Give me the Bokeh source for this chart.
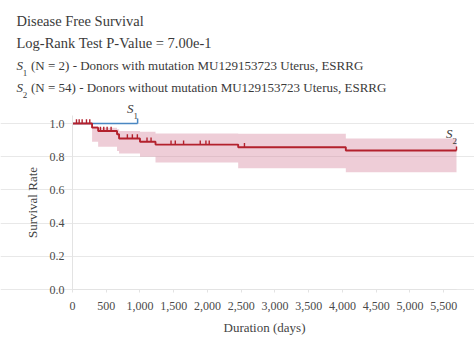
from bokeh.plotting import figure
from bokeh.models import Label, NumeralTickFormatter, FixedTicker, Range1d
from bokeh.embed import file_html
from bokeh.resources import INLINE

# ---- data ----
title_1 = "Disease Free Survival"
title_2 = "Log-Rank Test P-Value = 7.00e-1"
s1_desc = "(N = 2) - Donors with mutation MU129153723 Uterus, ESRRG"
s2_desc = "(N = 54) - Donors without mutation MU129153723 Uterus, ESRRG"
x_label = "Duration (days)"
y_label = "Survival Rate"

s1_time = [0, 965]
s1_surv = [1.0, 1.0]
s1_censor = [965]

s2_time = [0, 290, 380, 660, 690, 1000, 1230, 2455, 4050, 5690]
s2_surv = [1.0, 0.975, 0.955, 0.935, 0.91, 0.89, 0.873, 0.857, 0.837, 0.837]
s2_upper = [1.0, 0.985, 0.975, 0.965, 0.955, 0.95, 0.94, 0.938, 0.91, 0.91]
s2_lower = [1.0, 0.89, 0.86, 0.835, 0.82, 0.80, 0.765, 0.73, 0.707, 0.707]
s2_censor = [59, 99, 143, 207, 256, 414, 463, 513, 572, 813, 887, 961, 1104, 1164,
             1460, 1523, 1646, 1893, 1977, 2026, 2548, 5690]

x_ticks = list(range(0, 5501, 500))
y_ticks = [0.0, 0.2, 0.4, 0.6, 0.8, 1.0]
x_max = 5690
y_top = 1.05

RED = "#b3212d"
BLUE = "#4a87c2"
BAND = "#d5839a"
FONT = "Liberation Serif"
TXT = "#3a3a3a"


def surv_at(times, surv, t):
    v = surv[0]
    for ti, si in zip(times, surv):
        if ti <= t:
            v = si
    return v


# layout geometry (pixels); the frame covers the whole canvas
W, H = 474, 351
AX_LEFT = 72        # pixel of x = 0
AX_RIGHT = 456      # pixel of x = x_max
AX_BOTTOM = 289     # pixel of y = 0
PX_PER_Y = 166.0    # pixels per 1.0 survival

px_per_x = (AX_RIGHT - AX_LEFT) / x_max
x_lo = -AX_LEFT / px_per_x
x_hi = (W - AX_LEFT) / px_per_x
y_lo = -(H - AX_BOTTOM) / PX_PER_Y
y_hi = AX_BOTTOM / PX_PER_Y

p = figure(width=W, height=H, x_range=Range1d(x_lo, x_hi), y_range=Range1d(y_lo, y_hi),
           output_backend="svg", toolbar_location=None,
           min_border_left=0, min_border_right=0, min_border_top=0, min_border_bottom=0)
p.outline_line_color = None
p.background_fill_color = "white"
p.border_fill_color = "white"

# band
p.varea_step(x=s2_time, y1=s2_lower, y2=s2_upper, step_mode="after",
             fill_color=BAND, fill_alpha=0.4)

# S1
p.step(x=s1_time, y=s1_surv, mode="after", line_color=BLUE, line_width=1.5)
s1_cy = [surv_at(s1_time, s1_surv, t) for t in s1_censor]
p.segment(x0=s1_censor, y0=s1_cy, x1=s1_censor, y1=[v + 0.03 for v in s1_cy],
          line_color=BLUE, line_width=1.5)

# S2
p.step(x=s2_time, y=s2_surv, mode="after", line_color=RED, line_width=1.9)
s2_cy = [surv_at(s2_time, s2_surv, t) for t in s2_censor]
p.segment(x0=s2_censor, y0=s2_cy, x1=s2_censor, y1=[v + 0.025 for v in s2_cy],
          line_color=RED, line_width=1.4)

# curve labels
for t_end, v_end, sub, yoff in [(s1_time[-1], s1_surv[-1], "1", 8), (s2_time[-1], s2_surv[-1], "2", 10)]:
    p.add_layout(Label(x=t_end, y=v_end, x_offset=-4, y_offset=yoff, text="S",
                       text_align="right", text_font=FONT, text_font_style="italic",
                       text_font_size="13px", text_color=TXT))
    p.add_layout(Label(x=t_end, y=v_end, x_offset=-4, y_offset=yoff - 3, text=sub,
                       text_align="left", text_font=FONT,
                       text_font_size="9px", text_color=TXT))

# header lines (screen units, measured from the canvas' lower-left corner)
hx = 16
p.add_layout(Label(x=hx, y=H - 28, x_units="screen", y_units="screen",
                   text=title_1, text_font=FONT, text_font_size="14.5px", text_color=TXT))
p.add_layout(Label(x=hx, y=H - 50, x_units="screen", y_units="screen",
                   text=title_2, text_font=FONT, text_font_size="14.5px", text_color=TXT))
for base, sub, desc in [(72.5, "1", s1_desc), (94, "2", s2_desc)]:
    p.add_layout(Label(x=hx, y=H - base, x_units="screen", y_units="screen",
                       text="S", text_font=FONT, text_font_style="italic",
                       text_font_size="13px", text_color=TXT))
    p.add_layout(Label(x=hx + 6.3, y=H - base - 3, x_units="screen", y_units="screen",
                       text=sub, text_font=FONT, text_font_size="9px", text_color=TXT))
    p.add_layout(Label(x=hx + 14.5, y=H - base, x_units="screen", y_units="screen",
                       text=desc, text_font=FONT, text_font_size="13px", text_color=TXT))

# axes (drawn at data 0 inside the full-canvas frame)
p.xaxis.ticker = FixedTicker(ticks=x_ticks)
p.xaxis.formatter = NumeralTickFormatter(format="0,0")
p.xaxis.bounds = (0, x_max)
p.xaxis.fixed_location = 0
p.yaxis.ticker = FixedTicker(ticks=y_ticks)
p.yaxis.formatter = NumeralTickFormatter(format="0.0")
p.yaxis.fixed_location = 0
p.yaxis.bounds = (0, y_top)
for ax in (p.xaxis[0], p.yaxis[0]):
    ax.axis_line_color = "#e3e3e3"
    ax.major_tick_line_color = "#e3e3e3"
    ax.minor_tick_line_color = None
    ax.major_tick_in = 0
    ax.major_label_text_font = FONT
    ax.major_label_text_font_size = "12px"
    ax.major_label_text_color = "#4a4a4a"
    ax.axis_label_text_font = FONT
    ax.axis_label_text_font_size = "13px"
    ax.axis_label_text_font_style = "normal"
    ax.axis_label_text_color = "#444444"
p.xaxis.axis_label = x_label
p.yaxis.axis_label = y_label
p.xaxis.major_tick_out = 3
p.xaxis.major_label_standoff = 9
p.xaxis.axis_label_standoff = 7
p.yaxis.major_tick_out = 0
p.yaxis.major_label_standoff = 8
p.yaxis.axis_label_standoff = 7

p.xgrid.visible = False
p.ygrid.ticker = FixedTicker(ticks=y_ticks)
p.ygrid.bounds = (0, x_max)
p.ygrid.grid_line_color = "#e8e8e8"

open("out.html", "w").write(file_html(p, INLINE))
